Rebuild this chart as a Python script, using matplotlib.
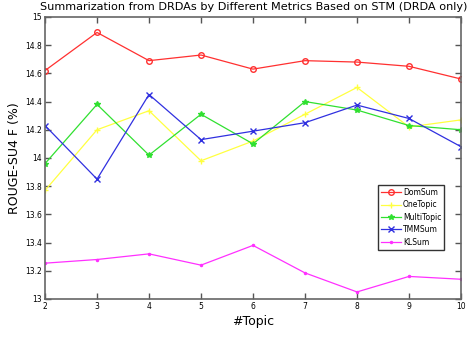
import matplotlib
matplotlib.use("Agg")
import matplotlib.pyplot as plt

topics = [2, 3, 4, 5, 6, 7, 8, 9, 10]
domsum = [14.62, 14.89, 14.69, 14.73, 14.63, 14.69, 14.68, 14.65, 14.56]
onetopic = [13.77, 14.20, 14.335, 13.98, 14.12, 14.31, 14.50, 14.22, 14.27]
multitopic = [13.96, 14.38, 14.02, 14.31, 14.10, 14.40, 14.34, 14.23, 14.20]
tmmsum = [14.23, 13.85, 14.45, 14.13, 14.19, 14.25, 14.375, 14.28, 14.08]
klsum = [13.254, 13.28, 13.32, 13.24, 13.38, 13.185, 13.05, 13.16, 13.14]
yticks = [13, 13.2, 13.4, 13.6, 13.8, 14, 14.2, 14.4, 14.6, 14.8, 15]
ytick_labels = ["13", "13.2", "13.4", "13.6", "13.8", "14", "14.2", "14.4", "14.6", "14.8", "15"]

fig = plt.figure(figsize=(4.74, 3.53), dpi=100)
ax = fig.add_axes([0.095, 0.153, 0.8775, 0.799])

ax.plot(topics, domsum, color="#ff3030", marker="o", ms=4, mfc="none", lw=0.9, label="DomSum")
ax.plot(topics, onetopic, color="#ffff40", marker="+", ms=5, lw=0.9, label="OneTopic")
ax.plot(topics, multitopic, color="#30e030", marker="*", ms=4, lw=0.9, label="MultiTopic")
ax.plot(topics, tmmsum, color="#3030e0", marker="x", ms=4, lw=0.9, label="TMMSum")
ax.plot(topics, klsum, color="#ff30ff", marker=".", ms=3, lw=0.9, label="KLSum")

ax.set_xlim(2, 10)
ax.set_ylim(13, 15)
ax.set_xticks(topics)
ax.set_yticks(yticks)
ax.set_yticklabels(ytick_labels)
ax.tick_params(direction="in", length=4, width=1, labelsize=5.5, colors="#555555",
               labelcolor="black", top=True, right=True, pad=2)
for s in ax.spines.values():
    s.set_color("#666666")
    s.set_linewidth(1.2)

ax.set_xlabel("#Topic", fontsize=9, labelpad=3)
ax.set_ylabel("ROUGE-SU4 F (%)", fontsize=9, labelpad=3)
fig.suptitle("Summarization from DRDAs by Different Metrics Based on STM (DRDA only)",
             fontsize=8.1, x=0.535, y=0.995, va="top")

leg = ax.legend(loc="upper left", bbox_to_anchor=(0.80, 0.405), fontsize=5.5,
                fancybox=False, framealpha=1, borderpad=0.4, labelspacing=0.45,
                handlelength=2.6, handletextpad=0.3, borderaxespad=0)
leg.get_frame().set_edgecolor("#333333")
leg.get_frame().set_linewidth(1.0)

fig.text(0.0, -0.02, "Figure 1", fontsize=11, color="#333333", va="center")

fig.savefig("out.png", dpi=100)
